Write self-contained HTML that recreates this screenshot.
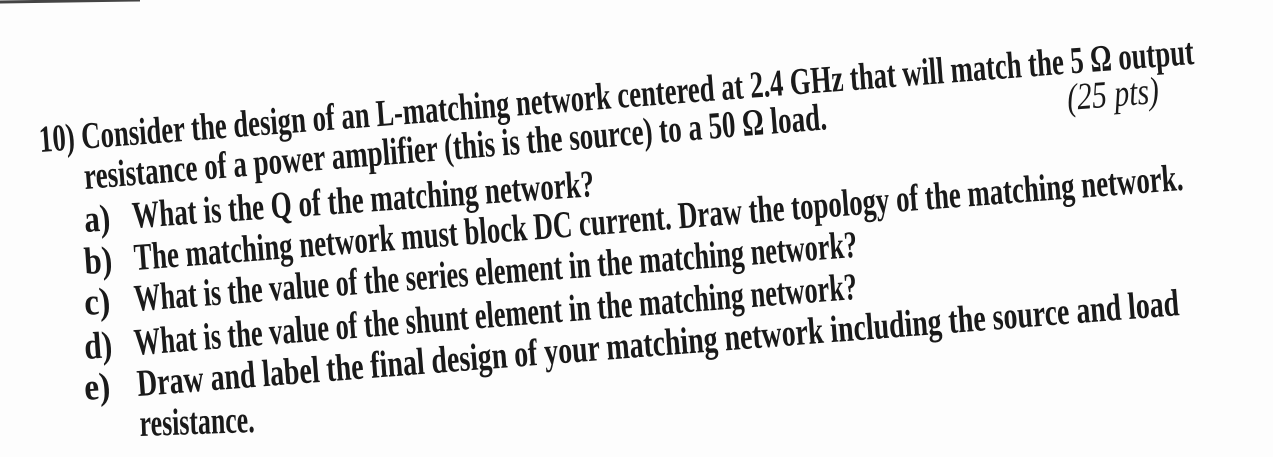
<!DOCTYPE html>
<html><head><style>
html,body{margin:0;padding:0;background:#fff;}
svg{display:block}
text{font-family:"Liberation Serif",serif;font-weight:bold;fill:#1a1a1a;font-size:38px}
</style></head><body>
<svg width="1273" height="457" viewBox="0 0 1273 457">
<rect width="1273" height="457" fill="#fdfdfd"/>
<line x1="0" y1="2" x2="140" y2="0" stroke="#444" stroke-width="3"/>
<text x="40" y="152" transform="rotate(-4.36 40 152)" textLength="1158" lengthAdjust="spacingAndGlyphs">10) Consider the design of an L-matching network centered at 2.4 GHz that will match the 5 Ω output</text>
<text x="1068" y="110" transform="rotate(-4.5 1068 110)" textLength="92" lengthAdjust="spacingAndGlyphs" font-style="italic" style="font-weight:normal">(25 pts)</text>
<text x="85" y="189" transform="rotate(-4.6 85 189)" textLength="745" lengthAdjust="spacingAndGlyphs">resistance of a power amplifier (this is the source) to a 50 Ω load.</text>

<text x="85" y="232" transform="rotate(-4 85 232)" textLength="26" lengthAdjust="spacingAndGlyphs">a)</text>
<text x="133" y="228" transform="rotate(-3.95 133 228)" textLength="463" lengthAdjust="spacingAndGlyphs">What is the Q of the matching network?</text>

<text x="85" y="274" transform="rotate(-4 85 274)" textLength="28" lengthAdjust="spacingAndGlyphs">b)</text>
<text x="135" y="270" transform="rotate(-4.37 135 270)" textLength="1052" lengthAdjust="spacingAndGlyphs">The matching network must block DC current. Draw the topology of the matching network.</text>

<text x="85" y="315" transform="rotate(-4 85 315)" textLength="26" lengthAdjust="spacingAndGlyphs">c)</text>
<text x="135" y="311" transform="rotate(-4.29 135 311)" textLength="725" lengthAdjust="spacingAndGlyphs">What is the value of the series element in the matching network?</text>

<text x="85" y="359" transform="rotate(-4 85 359)" textLength="28" lengthAdjust="spacingAndGlyphs">d)</text>
<text x="135" y="355" transform="rotate(-4.44 135 355)" textLength="725" lengthAdjust="spacingAndGlyphs">What is the value of the shunt element in the matching network?</text>

<text x="85" y="400" transform="rotate(-4 85 400)" textLength="26" lengthAdjust="spacingAndGlyphs">e)</text>
<text x="138" y="396" transform="rotate(-4.44 138 396)" textLength="1045" lengthAdjust="spacingAndGlyphs">Draw and label the final design of your matching network including the source and load</text>

<text x="140" y="436" transform="rotate(-2 140 436)" textLength="115" lengthAdjust="spacingAndGlyphs">resistance.</text>
</svg>
</body></html>
